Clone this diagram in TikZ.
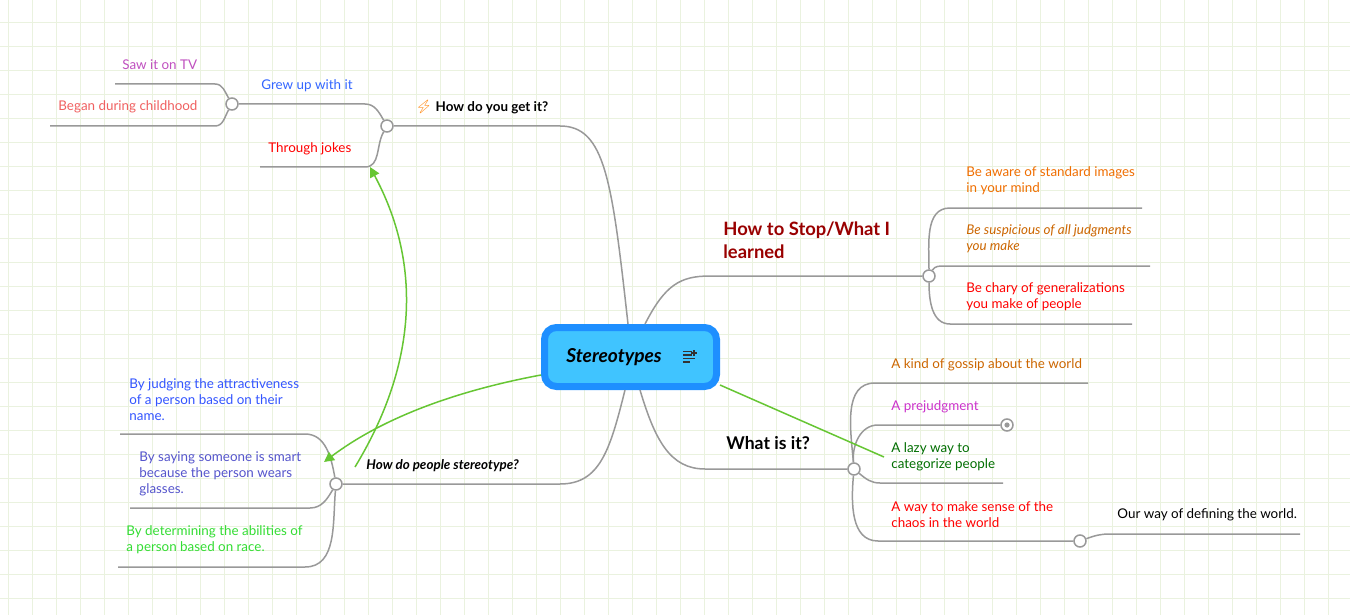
\documentclass[tikz,border=0pt]{standalone}
\usepackage{fontspec}
\setmainfont{Lato}
\newfontfamily\emo{Noto Emoji}
\usetikzlibrary{arrows.meta}
\definecolor{gridc}{HTML}{EAF2DF}
\definecolor{brc}{HTML}{999999}
\definecolor{lnk}{HTML}{66C633}
\tikzset{
 br/.style={draw=brc,line width=0.75pt},
 knob/.style={circle,draw=brc,fill=white,line width=0.75pt,minimum size=6pt,inner sep=0pt},
 lk/.style={draw=lnk,line width=0.75pt},
 tx/.style={anchor=west,inner sep=0pt,align=left,font=\fontsize{6.7}{8}\selectfont},
}
\begin{document}
\begin{tikzpicture}[x=0.5pt,y=-0.5pt]
\useasboundingbox (0,0) rectangle (1350,615);
\fill[white] (0,0) rectangle (1350,615);
\foreach \i in {8,32,...,1350} \draw[gridc,line width=0.4pt] (\i,0) -- (\i,615);
\foreach \j in {-2,22,...,615} \draw[gridc,line width=0.4pt] (0,\j) -- (1350,\j);

% center
\node[draw={rgb,255:red,30;green,143;blue,255},line width=3.5pt,fill={rgb,255:red,64;green,196;blue,255},rounded corners=6pt,minimum width=86pt,minimum height=29.5pt,inner sep=0pt] (c) at (630.5,357) {};
\node[inner sep=0pt,font=\fontsize{9.6}{10}\selectfont\bfseries\itshape] (ct) at (614,357) {Stereotypes};
\node[inner sep=0pt] (ic) at (689,357) {};
\draw[black!80,line width=0.6pt] (683,351.5) -- (692,351.5) (683,355) -- (692,355) (683,358.5) -- (695,358.5) (683,362) -- (690,362) (694,350) -- (694,356) (691,353) -- (697,353);

% top branch
\node[knob] (k1) at (387,126) {};
\draw[br] (628,324) .. controls (612,180) and (605,126) .. (560,126) -- (k1);
\node[tx,font=\fontsize{6.7}{8}\selectfont\bfseries] (t1) at (415,107) {{\emo\color{orange}⚡} How do you get it?};
\node[knob] (k2) at (232,104) {};
\draw[br] (k1) to[out=120,in=0] (365,104) -- (k2);
\node[tx,text={rgb,255:red,51;green,102;blue,255}] (a1) at (261,86) {Grew up with it};
\draw[br] (k1) to[out=240,in=0] (365,167) -- (260,167);
\node[tx,text=red] (a2) at (268,149) {Through jokes};
\draw[br] (k2) to[out=120,in=0] (215,84) -- (115,84);
\node[tx,text={rgb,255:red,192;green,80;blue,192}] (a3) at (122,65) {Saw it on TV};
\draw[br] (k2) to[out=240,in=0] (215,126) -- (50,126);
\node[tx,text={rgb,255:red,240;green,96;blue,96}] (a4) at (58,107) {Began during childhood};

% how to stop
\node[knob] (k3) at (929,276) {};
\draw[br] (645,324) .. controls (665,285) and (680,276) .. (710,276) -- (k3);
\node[tx,font=\fontsize{9.2}{11.5}\selectfont\bfseries,text={rgb,255:red,153;green,0;blue,0}] (b0) at (723,240) {How to Stop/What I\\learned};
\draw[br] (k3) to[out=90,in=180] (950,208) -- (1142,208);
\node[tx,text={rgb,255:red,240;green,110;blue,0}] (b1) at (966,181) {Be aware of standard images\\in your mind};
\draw[br] (k3) to[out=60,in=180] (945,266) -- (1150,266);
\node[tx,font=\fontsize{6.7}{8}\selectfont\itshape,text={rgb,255:red,204;green,102;blue,0}] (b2) at (966,239) {Be suspicious of all judgments\\you make};
\draw[br] (k3) to[out=270,in=180] (950,324) -- (1132,324);
\node[tx,text=red] (b3) at (966,297) {Be chary of generalizations\\you make of people};

% what is it
\node[knob] (k4) at (854,469) {};
\draw[br] (640,390) .. controls (655,440) and (670,469) .. (705,469) -- (k4);
\node[tx,font=\fontsize{8.8}{10}\selectfont\bfseries] (w0) at (726,443) {What is it?};
\draw[br] (k4) to[out=95,in=180] (875,383) -- (1088,383);
\node[tx,text={rgb,255:red,204;green,102;blue,0}] (w1) at (891,365) {A kind of gossip about the world};
\node[knob] (k5) at (1007,425) {};
\fill[brc] (k5) circle (1.3pt);
\draw[br] (k4) to[out=95,in=180] (878,425) -- (k5);
\node[tx,text={rgb,255:red,204;green,51;blue,204}] (w2) at (891,407) {A prejudgment};
\draw[br] (k4) to[out=-40,in=180] (880,483) -- (1003,483);
\node[tx,text={rgb,255:red,0;green,110;blue,0}] (w3) at (891,457) {A lazy way to\\categorize people};
\node[knob] (k6) at (1080,541) {};
\draw[br] (k4) to[out=265,in=180] (878,541) -- (k6);
\node[tx,text=red] (w4) at (891,515) {A way to make sense of the\\chaos in the world};
\draw[br] (k6) to[out=20,in=180] (1110,534) -- (1300,534);
\node[tx] (w5) at (1117,515) {Our way of defining the world.};

% how do people stereotype
\node[knob] (k7) at (336,484) {};
\draw[br] (625,390) .. controls (610,450) and (600,484) .. (560,484) -- (k7);
\node[tx,font=\fontsize{6.7}{8}\selectfont\bfseries\itshape] (p0) at (366,466) {How do people stereotype?};
\draw[br] (k7) to[out=100,in=0] (305,434) -- (120,434);
\node[tx,text={rgb,255:red,51;green,85;blue,255}] (p1) at (129,400) {By judging the attractiveness\\of a person based on their\\name.};
\draw[br] (k7) to[out=240,in=0] (310,508) -- (130,508);
\node[tx,text={rgb,255:red,85;green,85;blue,204}] (p2) at (139,474) {By saying someone is smart\\because the person wears\\glasses.};
\draw[br] (k7) to[out=265,in=0] (305,567) -- (118,567);
\node[tx,text={rgb,255:red,51;green,221;blue,51}] (p3) at (126,540) {By determining the abilities of\\a person based on race.};

% links
\coordinate (l1s) at (541,375);
\coordinate (l1e) at (324,462);
\draw[lk,-{Triangle[length=5pt,width=5pt]}] (l1s) .. controls (450,392) and (380,420) .. (l1e);
\coordinate (l2s) at (720,385);
\coordinate (l2e) at (884,457);
\draw[lk] (l2s) -- (l2e);
\coordinate (l3s) at (355,467);
\coordinate (l3e) at (370,167);
\draw[lk,-{Triangle[length=5pt,width=5pt]}] (l3s) .. controls (420,360) and (420,260) .. (l3e);
\end{tikzpicture}
\end{document}
